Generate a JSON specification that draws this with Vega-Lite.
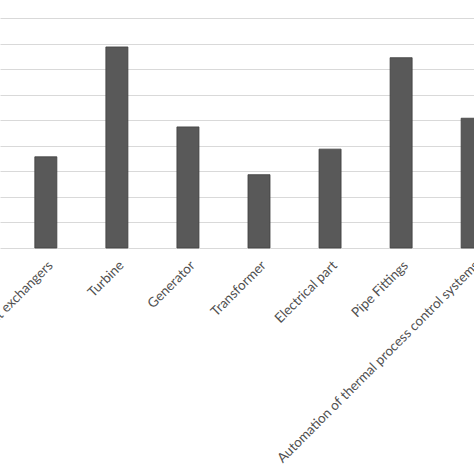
{
  "$schema": "https://vega.github.io/schema/vega-lite/v6.json",
  "width": 518,
  "height": 246,
  "autosize": {"type": "none"},
  "padding": {"left": 0, "top": 2, "right": 0, "bottom": 226},
  "background": "white",
  "data": {
    "values": [
      {"component": "Heat exchangers", "value": 3.57},
      {"component": "Turbine", "value": 7.87},
      {"component": "Generator", "value": 4.74},
      {"component": "Transformer", "value": 2.87},
      {"component": "Electrical part", "value": 3.87},
      {"component": "Pipe Fittings", "value": 7.45},
      {"component": "Automation of thermal process control systems", "value": 5.08}
    ]
  },
  "mark": {"type": "bar", "color": "#595959", "stroke": "#3f3f3f", "strokeWidth": 0.8},
  "encoding": {
    "x": {
      "field": "component",
      "type": "nominal",
      "sort": null,
      "title": null,
      "scale": {"paddingInner": 0.69, "paddingOuter": 0.49},
      "axis": {
        "labelAngle": -45,
        "labelFont": "Lato",
        "labelFontSize": 13.5,
        "labelColor": "#505050",
        "labelPadding": 10,
        "labelLimit": 400,
        "ticks": false,
        "domainColor": "#d9d9d9",
        "domainWidth": 1.2
      }
    },
    "y": {
      "field": "value",
      "type": "quantitative",
      "title": null,
      "scale": {"domain": [0, 9.63], "nice": false},
      "axis": {
        "values": [1, 2, 3, 4, 5, 6, 7, 8, 9],
        "labels": false,
        "ticks": false,
        "domain": false,
        "gridColor": "#d9d9d9",
        "gridWidth": 1.2
      }
    }
  },
  "config": {"view": {"stroke": null}}
}
